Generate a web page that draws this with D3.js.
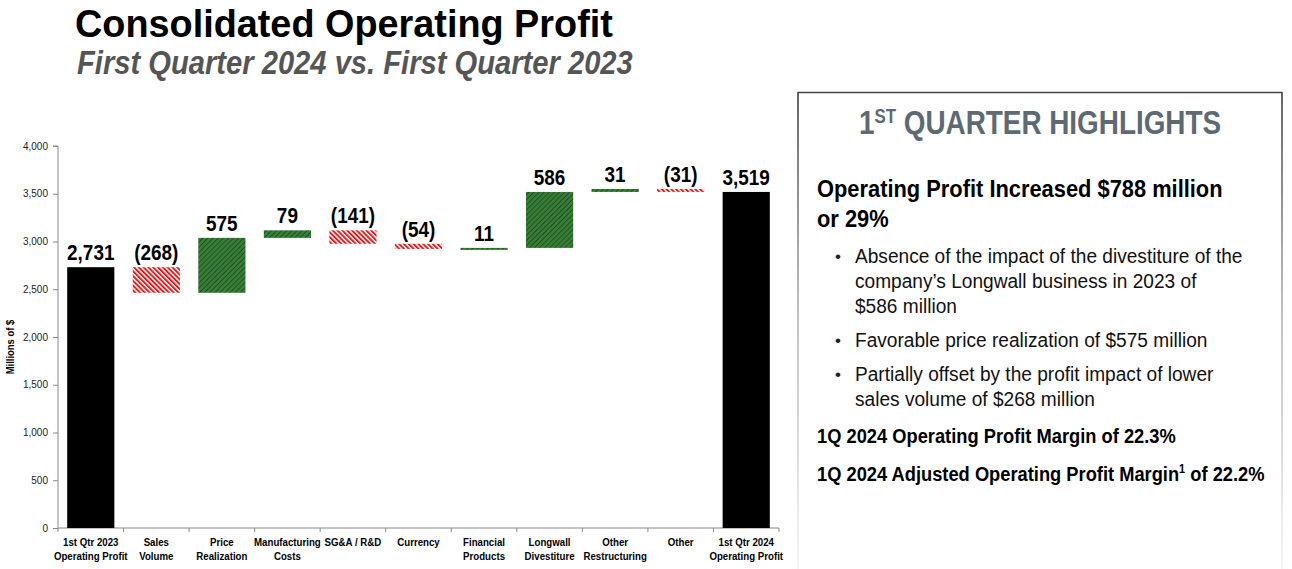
<!DOCTYPE html>
<html>
<head>
<meta charset="utf-8">
<script src="https://cdn.jsdelivr.net/npm/d3@7"></script>
<style>
  html, body { margin: 0; padding: 0; background: #fff; }
  svg { display: block; }
  .narrow { font-family: "Liberation Sans Narrow", "Arial Narrow", "Liberation Sans", Arial, sans-serif; }
  .reg { font-family: "Liberation Sans", Arial, sans-serif; }
</style>
</head>
<body>
<div id="chart"></div>
<script>
// waterfall data
const categories = [
  ["1st Qtr 2023", "Operating Profit"],
  ["Sales", "Volume"],
  ["Price", "Realization"],
  ["Manufacturing", "Costs"],
  ["SG&A / R&D"],
  ["Currency"],
  ["Financial", "Products"],
  ["Longwall", "Divestiture"],
  ["Other", "Restructuring"],
  ["Other"],
  ["1st Qtr 2024", "Operating Profit"]
];
const values = [2731, -268, 575, 79, -141, -54, 11, 586, 31, -31, 3519];
const isTotal = [true, false, false, false, false, false, false, false, false, false, true];
const yTicks = [0, 500, 1000, 1500, 2000, 2500, 3000, 3500, 4000];

const headline = ["Operating Profit Increased $788 million", "or 29%"];
const bullets = [
  ["Absence of the impact of the divestiture of the", "company\u2019s Longwall business in 2023 of", "$586 million"],
  ["Favorable price realization of $575 million"],
  ["Partially offset by the profit impact of lower", "sales volume of $268 million"]
];
const margin1 = "1Q 2024 Operating Profit Margin of 22.3%";

const W = 1292, H = 569;
const svg = d3.select("#chart").append("svg").attr("width", W).attr("height", H);

// squeeze text horizontally around its own x (no narrow font installed)
function squeeze(sel, sx) {
  sel.attr("transform", function () {
    const x0 = +d3.select(this).attr("x");
    return `translate(${x0 * (1 - sx)},0) scale(${sx},1)`;
  });
  return sel;
}

// patterns
const defs = svg.append("defs");
const red = defs.append("pattern").attr("id", "redHatch")
  .attr("patternUnits", "userSpaceOnUse").attr("width", 3.4).attr("height", 3.4)
  .attr("patternTransform", "rotate(-45)");
red.append("rect").attr("width", 3.4).attr("height", 3.4).attr("fill", "#fff");
red.append("rect").attr("width", 1.9).attr("height", 3.4).attr("fill", "#f21414");

const green = defs.append("pattern").attr("id", "greenHatch")
  .attr("patternUnits", "userSpaceOnUse").attr("width", 3.6).attr("height", 3.6)
  .attr("patternTransform", "rotate(45)");
green.append("rect").attr("width", 3.6).attr("height", 3.6).attr("fill", "#fff");
green.append("rect").attr("width", 2.0).attr("height", 3.6).attr("fill", "#1c911c");
green.append("rect").attr("x", 2.0).attr("width", 1.3).attr("height", 3.6).attr("fill", "#061406");

const edge = defs.append("linearGradient").attr("id", "edgeFade")
  .attr("gradientUnits", "userSpaceOnUse")
  .attr("x1", 0).attr("y1", 92).attr("x2", 0).attr("y2", 569);
edge.append("stop").attr("offset", "0%").attr("stop-color", "#333");
edge.append("stop").attr("offset", "45%").attr("stop-color", "#aaa");
edge.append("stop").attr("offset", "100%").attr("stop-color", "#f2f2f2");

// title
svg.append("text").attr("class", "narrow")
  .attr("x", 75).attr("y", 37)
  .attr("font-size", 39).attr("font-weight", "bold").attr("fill", "#000")
  .text("Consolidated Operating Profit")
  .call(squeeze, 0.97);
svg.append("text").attr("class", "narrow")
  .attr("x", 77).attr("y", 74)
  .attr("font-size", 33).attr("font-weight", "bold").attr("font-style", "italic").attr("fill", "#555")
  .text("First Quarter 2024 vs. First Quarter 2023")
  .call(squeeze, 0.884);

// chart area
const plotL = 58, plotR = 779, plotT = 146, plotB = 528;
const x = d3.scaleBand().domain(d3.range(categories.length)).range([plotL, plotR]).paddingInner(0.28).paddingOuter(0.14);
const y = d3.scaleLinear().domain([0, 4000]).range([plotB, plotT]);

// running totals
let run = 0;
const bars = values.map((v, i) => {
  let y0, y1;
  if (isTotal[i]) { y0 = 0; y1 = v; run = v; }
  else { y0 = run; y1 = run + v; run = y1; }
  return { i, v, lo: Math.min(y0, y1), hi: Math.max(y0, y1), total: isTotal[i] };
});

// y axis
const yAxis = svg.append("g").attr("transform", `translate(${plotL},0)`)
  .call(d3.axisLeft(y).tickValues(yTicks).tickSize(5).tickPadding(5).tickFormat(d3.format(",")));
yAxis.select(".domain").attr("stroke", "#888").attr("d", `M-5,${plotT}H0V${plotB}`);
yAxis.selectAll(".tick line").attr("stroke", "#888");
yAxis.selectAll(".tick text").attr("class", "reg").attr("font-size", 10).attr("fill", "#222");

svg.append("text").attr("class", "narrow")
  .attr("transform", "translate(14,347) rotate(-90) scale(0.9,1)")
  .attr("text-anchor", "middle").attr("font-size", 10.5).attr("font-weight", "bold")
  .text("Millions of $");

// x axis with boundary ticks
const xg = svg.append("g");
xg.append("line").attr("x1", plotL).attr("x2", plotR).attr("y1", plotB).attr("y2", plotB).attr("stroke", "#888");
const step = x.step();
xg.selectAll("line.b").data(d3.range(categories.length + 1)).enter().append("line")
  .attr("class", "b")
  .attr("x1", d => plotL + d * step).attr("x2", d => plotL + d * step)
  .attr("y1", plotB).attr("y2", plotB + 4).attr("stroke", "#888");

xg.selectAll("text.cat").data(categories).enter().append("text")
  .attr("class", "narrow cat")
  .attr("text-anchor", "middle").attr("font-size", 11).attr("font-weight", "bold")
  .attr("x", (d, i) => x(i) + x.bandwidth() / 2)
  .attr("y", 546.5)
  .each(function (d) {
    d3.select(this).selectAll("tspan").data(d).enter().append("tspan")
      .attr("x", d3.select(this).attr("x"))
      .attr("dy", (t, j) => j === 0 ? 0 : 13.5)
      .text(t => t);
  })
  .call(squeeze, 0.88);

// bars
svg.selectAll("rect.bar").data(bars).enter().append("rect")
  .attr("class", "bar")
  .attr("x", d => x(d.i))
  .attr("width", x.bandwidth())
  .attr("y", d => y(d.hi))
  .attr("height", d => Math.max(2, y(d.lo) - y(d.hi)))
  .attr("fill", d => d.total ? "#000" : (d.v < 0 ? "url(#redHatch)" : "url(#greenHatch)"));

// value labels
const fmt = d3.format(",");
svg.selectAll("text.val").data(bars).enter().append("text")
  .attr("class", "narrow val")
  .attr("text-anchor", "middle").attr("font-size", 21.5).attr("font-weight", "bold")
  .attr("x", d => x(d.i) + x.bandwidth() / 2)
  .attr("y", d => y(d.hi) - 7)
  .text(d => d.v < 0 ? `(${fmt(-d.v)})` : fmt(d.v))
  .call(squeeze, 0.88);

// highlights panel
const panel = svg.append("g");
panel.append("line").attr("x1", 798).attr("x2", 798).attr("y1", 92).attr("y2", 569).attr("stroke", "url(#edgeFade)").attr("stroke-width", 1.5);
panel.append("line").attr("x1", 1282).attr("x2", 1282).attr("y1", 92).attr("y2", 569).attr("stroke", "url(#edgeFade)").attr("stroke-width", 1.5);
panel.append("line").attr("x1", 798).attr("x2", 1282).attr("y1", 92.5).attr("y2", 92.5).attr("stroke", "#444").attr("stroke-width", 1.5);

const head = panel.append("text").attr("class", "narrow")
  .attr("x", 1040).attr("y", 134).attr("text-anchor", "middle")
  .attr("font-size", 33).attr("font-weight", "bold").attr("fill", "#5d6a72");
head.append("tspan").text("1");
head.append("tspan").attr("font-size", 20).attr("dy", -11).text("ST");
head.append("tspan").attr("dy", 11).text(" QUARTER HIGHLIGHTS");
squeeze(head, 0.845);

panel.selectAll("text.hl").data(headline).enter().append("text")
  .attr("class", "narrow hl")
  .attr("x", 817).attr("y", (d, i) => 197 + i * 30)
  .attr("font-size", 23.5).attr("font-weight", "bold").attr("fill", "#000")
  .text(d => d)
  .call(squeeze, 0.93);

const bulletY = [263, 347, 381];
bullets.forEach((lines, bi) => {
  panel.append("text").attr("class", "reg")
    .attr("x", 835).attr("y", bulletY[bi] - 1).attr("font-size", 17).attr("fill", "#222")
    .text("\u2022");
  lines.forEach((t, li) => {
    panel.append("text").attr("class", "narrow")
      .attr("x", 855).attr("y", bulletY[bi] + li * 25)
      .attr("font-size", 21).attr("fill", "#111")
      .text(t)
      .call(squeeze, 0.91);
  });
});

panel.append("text").attr("class", "narrow")
  .attr("x", 817).attr("y", 443)
  .attr("font-size", 20).attr("font-weight", "bold").attr("fill", "#000")
  .text(margin1)
  .call(squeeze, 0.915);
const m2 = panel.append("text").attr("class", "narrow")
  .attr("x", 817).attr("y", 481)
  .attr("font-size", 20).attr("font-weight", "bold").attr("fill", "#000");
m2.append("tspan").text("1Q 2024 Adjusted Operating Profit Margin");
m2.append("tspan").attr("font-size", 12).attr("dy", -8).text("1");
m2.append("tspan").attr("dy", 8).text(" of 22.2%");
squeeze(m2, 0.915);
</script>
</body>
</html>
